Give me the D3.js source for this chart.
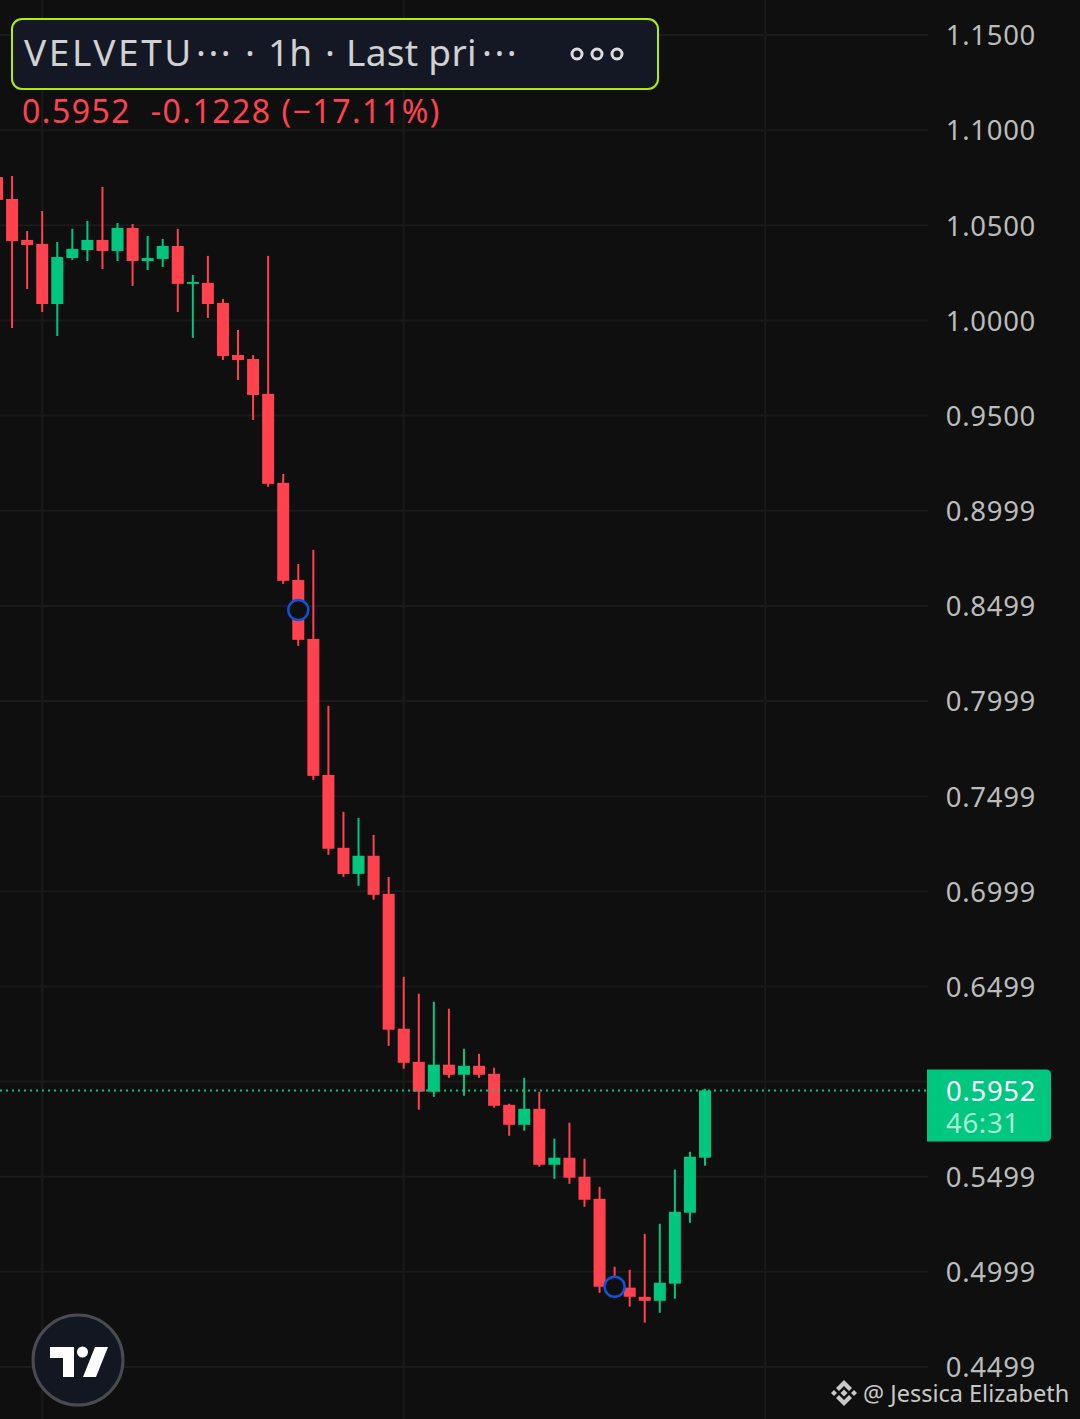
<!DOCTYPE html>
<html lang="en">
<head>
  <meta charset="UTF-8">
  <title>VELVETUSDT 1h</title>
  <script src="https://d3js.org/d3.v7.min.js"></script>
  <style>
    html, body { margin: 0; background: #0f0f0f; }
    svg { display: block; font-family: "Noto Sans", sans-serif; }
    .domain { display: none; }
  </style>
</head>
<body>
<svg id="chart" width="1080" height="1419"></svg>
<script>
// hourly candles
const opens = [1.0753,1.0638,1.0423,1.0402,1.0086,1.0328,1.0370,1.0423,1.0365,1.0486,1.0312,1.0323,1.0391,1.0192,1.0197,1.0092,0.9818,0.9797,0.9614,0.9146,0.8636,0.8326,0.7611,0.7228,0.7091,0.7186,0.6986,0.6277,0.6103,0.5946,0.6088,0.6035,0.6082,0.6040,0.5877,0.5772,0.5856,0.5562,0.5599,0.5499,0.5383,0.4921,0.4916,0.4868,0.4847,0.4937,0.5310,0.5599];
const highs = [1.0759,1.0759,1.0470,1.0575,1.0412,1.0481,1.0523,1.0701,1.0512,1.0507,1.0444,1.0428,1.0481,1.0239,1.0339,1.0113,0.9950,0.9818,1.0339,0.9193,0.8720,0.8794,0.7974,0.7417,0.7385,0.7296,0.7075,0.6550,0.6461,0.6419,0.6382,0.6172,0.6145,0.6072,0.5883,0.6019,0.5946,0.5699,0.5783,0.5594,0.5446,0.5026,0.5010,0.5199,0.5252,0.5536,0.5630,0.5961];
const lows = [1.0400,0.9960,1.0165,1.0044,0.9918,1.0318,1.0312,1.0270,1.0312,1.0181,1.0265,1.0281,1.0044,0.9908,1.0013,0.9792,0.9687,0.9477,0.9125,0.8615,0.8289,0.7585,0.7191,0.7075,0.7028,0.6955,0.6187,0.6067,0.5851,0.5919,0.6019,0.5925,0.6019,0.5862,0.5714,0.5741,0.5552,0.5488,0.5462,0.5341,0.4889,0.4874,0.4816,0.4732,0.4784,0.4858,0.5257,0.5557];
const closes = [1.0633,1.0417,1.0396,1.0086,1.0333,1.0376,1.0423,1.0365,1.0486,1.0312,1.0328,1.0391,1.0192,1.0202,1.0086,0.9813,0.9792,0.9608,0.9141,0.8631,0.8321,0.7606,0.7223,0.7091,0.7186,0.6981,0.6272,0.6098,0.5946,0.6088,0.6035,0.6082,0.6035,0.5872,0.5772,0.5856,0.5562,0.5599,0.5494,0.5378,0.4921,0.4874,0.4868,0.4847,0.4942,0.5315,0.5604,0.5952];

const tickValues = [1.15,1.10,1.05,1.00,0.95,0.8999,0.8499,0.7999,0.7499,0.6999,0.6499,0.5499,0.4999,0.4499];
const hiddenTick = 0.5999; // grid only, the price tag sits over its label
const gridBars = [3, 27, 51]; // vertical grid, candle index
const markerBars = [20, 41];
const markerPrices = [0.8478, 0.4921];
const lastPrice = 0.5952;

const legendParts = ["VELVETU", "···", "·", "1h", "·", "Last pri", "···"];
const changeText = "0.5952  -0.1228 (−17.11%)";
const countdown = "46:31";
const credit = "@ Jessica Elizabeth";

const red = "#ff424e", green = "#00c77f", gridColor = "#1a1a1a";
const svg = d3.select("#chart");

const x = d3.scaleLinear().domain([0, 47]).range([-3, 705]);
const y = d3.scaleLinear().domain([1.15, 0.4499]).range([35, 1367]);
const candles = opens.map((o, i) => ({ i, o, h: highs[i], l: lows[i], c: closes[i] }));
const isUp = d => d.c >= d.o;

// grid
svg.append("g").selectAll("line")
  .data(tickValues.concat(hiddenTick))
  .join("line")
  .attr("x1", 0).attr("x2", 928)
  .attr("y1", d => y(d)).attr("y2", d => y(d))
  .attr("stroke", gridColor).attr("stroke-width", 2);
svg.append("g").selectAll("line")
  .data(gridBars)
  .join("line")
  .attr("x1", d => x(d)).attr("x2", d => x(d))
  .attr("y1", 0).attr("y2", 1419)
  .attr("stroke", gridColor).attr("stroke-width", 2);

// candles
const bars = svg.append("g");
bars.selectAll("line")
  .data(candles)
  .join("line")
  .attr("x1", d => x(d.i)).attr("x2", d => x(d.i))
  .attr("y1", d => y(d.h)).attr("y2", d => y(d.l))
  .attr("stroke", d => isUp(d) ? green : red)
  .attr("stroke-width", 2);
bars.selectAll("rect")
  .data(candles)
  .join("rect")
  .attr("x", d => x(d.i) - 6)
  .attr("width", 12)
  .attr("y", d => y(Math.max(d.o, d.c)))
  .attr("height", d => Math.abs(y(d.o) - y(d.c)))
  .attr("fill", d => isUp(d) ? green : red);

// event markers
svg.append("g").selectAll("circle")
  .data(markerBars)
  .join("circle")
  .attr("cx", d => x(d))
  .attr("cy", (d, i) => y(markerPrices[i]))
  .attr("r", 10)
  .attr("fill", "#0f0f0f")
  .attr("stroke", "#0a55dc")
  .attr("stroke-width", 2.4);

// last price line
svg.append("line")
  .attr("x1", 0).attr("x2", 927)
  .attr("y1", y(lastPrice)).attr("y2", y(lastPrice))
  .attr("stroke", green).attr("stroke-width", 2)
  .attr("stroke-dasharray", "2 4");

// price axis
const axis = svg.append("g")
  .attr("transform", "translate(1036,1)")
  .call(d3.axisLeft(y).tickValues(tickValues).tickFormat(d3.format(".4f")).tickSize(0).tickPadding(0));
axis.selectAll("text")
  .attr("font-family", '"Noto Sans", sans-serif')
  .attr("font-size", 27.5)
  .attr("letter-spacing", 0.7)
  .attr("fill", "#bcbcbc");

// price tag
const tagTop = y(lastPrice) - 21;
svg.append("path")
  .attr("d", `M927,${tagTop} H1046 Q1051,${tagTop} 1051,${tagTop + 5} V${tagTop + 67} Q1051,${tagTop + 72} 1046,${tagTop + 72} H927 Z`)
  .attr("fill", green);
svg.append("text")
  .attr("x", 946).attr("y", tagTop + 31)
  .attr("font-size", 27.5).attr("letter-spacing", 0.7).attr("fill", "#fff")
  .text(d3.format(".4f")(lastPrice));
svg.append("text")
  .attr("x", 946).attr("y", tagTop + 63)
  .attr("font-size", 27.5).attr("letter-spacing", 0.7).attr("fill", "#a8eed5")
  .text(countdown);

// legend box
svg.append("rect")
  .attr("x", 12).attr("y", 19)
  .attr("width", 646).attr("height", 70)
  .attr("rx", 10)
  .attr("fill", "#141824")
  .attr("stroke", "#aef000").attr("stroke-width", 2);
const legendX = [24, 196, 245, 268, 325, 346, 482];
const legendSpacing = [2.6, 2.5, 0, 0, 0, 0.3, 2.5];
svg.append("g").selectAll("text")
  .data(legendParts)
  .join("text")
  .attr("x", (d, i) => legendX[i])
  .attr("y", 66)
  .attr("font-size", 37)
  .attr("fill", "#d1d1d1")
  .attr("letter-spacing", (d, i) => legendSpacing[i])
  .text(d => d);
svg.append("g").selectAll("circle")
  .data([577, 597, 617])
  .join("circle")
  .attr("cx", d => d).attr("cy", 54).attr("r", 5)
  .attr("fill", "none").attr("stroke", "#dcdcdc").attr("stroke-width", 3);
svg.append("text")
  .attr("x", 22).attr("y", 123)
  .attr("font-size", 32)
  .attr("letter-spacing", 1.5)
  .attr("fill", red)
  .style("white-space", "pre")
  .text(changeText);

// tradingview badge
const logo = svg.append("g");
logo.append("circle")
  .attr("cx", 78).attr("cy", 1360).attr("r", 45)
  .attr("fill", "#131722").attr("stroke", "#4a4a50").attr("stroke-width", 3);
logo.append("path").attr("fill", "#fff").attr("d", "M50,1347 H74 V1377 H63 V1358 H50 Z");
logo.append("circle").attr("cx", 82.5).attr("cy", 1352).attr("r", 5.5).attr("fill", "#fff");
logo.append("path").attr("fill", "#fff").attr("d", "M95,1347 H108 L96,1377 H83 Z");

// watermark
const mark = svg.append("g").attr("transform", "translate(844,1393)").attr("fill", "#c8c8c8");
mark.append("path").attr("d", "M0,-13 L8,-5 L5,-2 L0,-7 L-5,-2 L-8,-5 Z");
mark.append("path").attr("d", "M0,13 L8,5 L5,2 L0,7 L-5,2 L-8,5 Z");
mark.append("path").attr("d", "M0,-3.5 L3.5,0 L0,3.5 L-3.5,0 Z");
mark.append("path").attr("d", "M-13,0 L-10,-3 L-7,0 L-10,3 Z");
mark.append("path").attr("d", "M13,0 L10,-3 L7,0 L10,3 Z");
svg.append("text")
  .attr("x", 863).attr("y", 1402)
  .attr("font-size", 23.5)
  .attr("fill", "#c8c8c8")
  .text(credit);
</script>
</body>
</html>
